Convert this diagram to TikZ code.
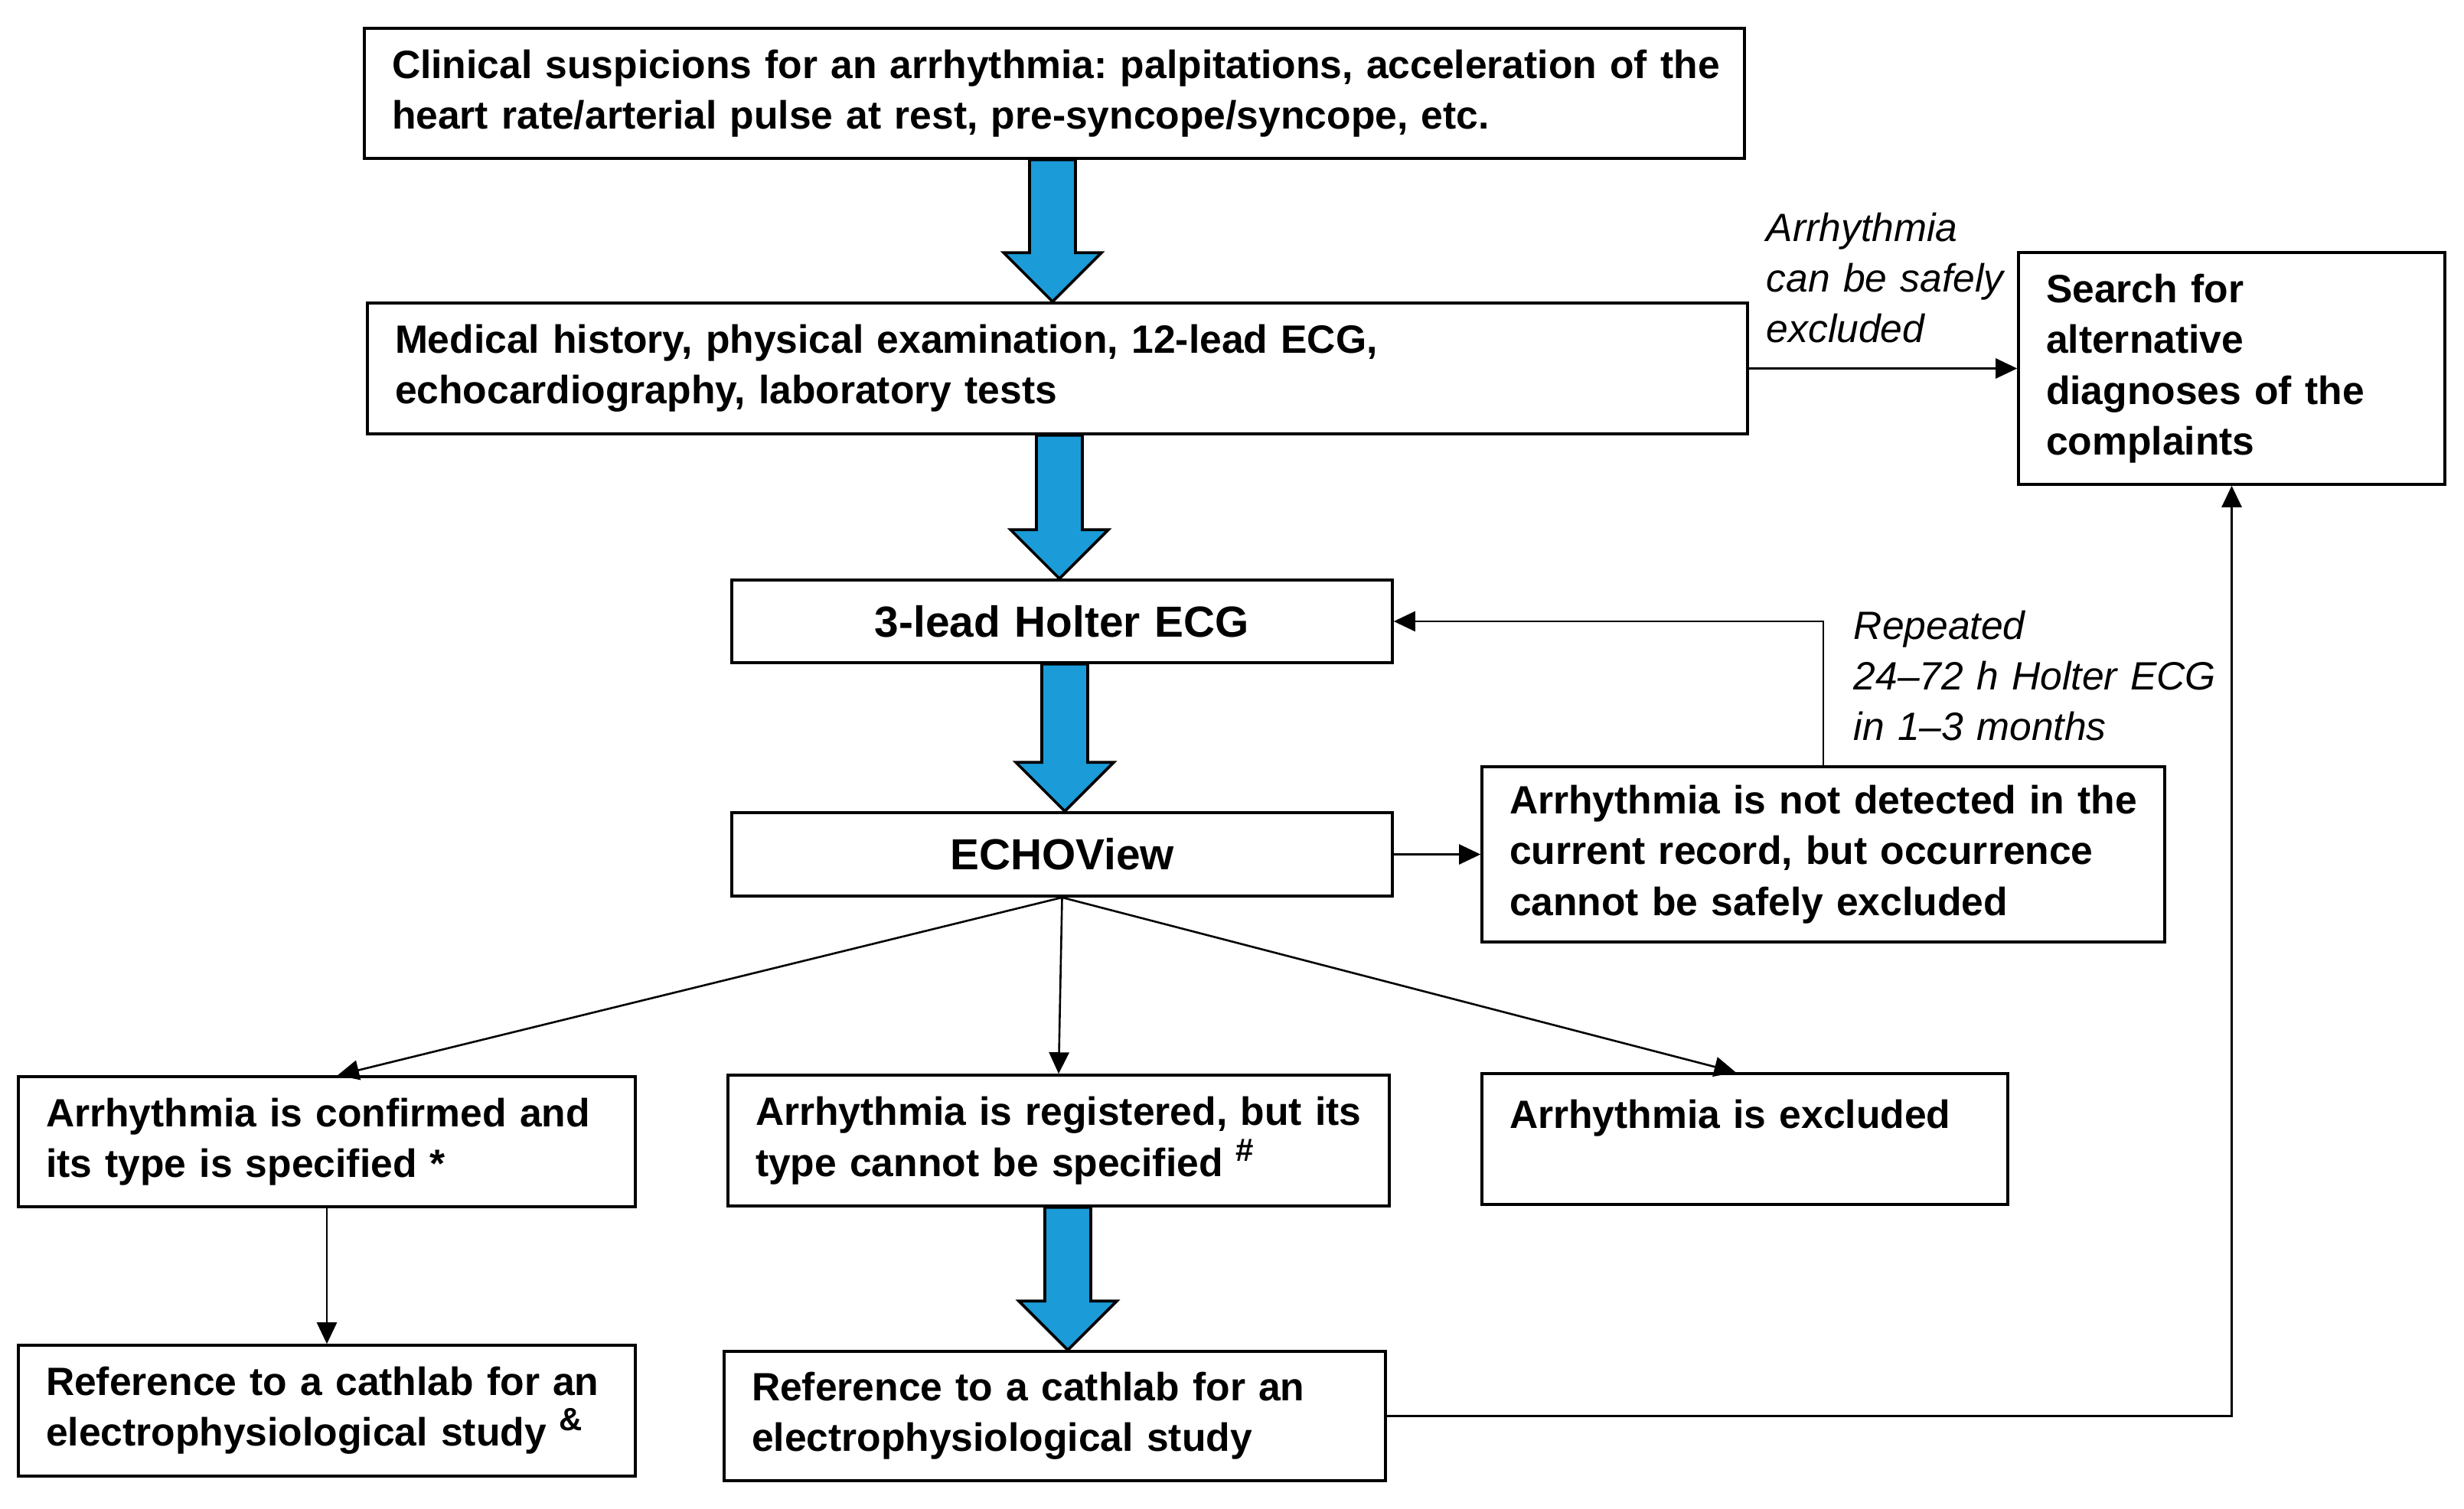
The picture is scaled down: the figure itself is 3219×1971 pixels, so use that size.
\documentclass[tikz,border=0pt]{standalone}
\usepackage{fontspec}
\setmainfont{Liberation Sans}
\usetikzlibrary{calc,arrows.meta}
\definecolor{arrowblue}{RGB}{27,155,215}
\frenchspacing
\newcommand\fatarrow[3]{%
  \draw[fat] let \p1=($(#1.south)+(#3,0)$), \p2=($(#2.north)+(#3,0)$) in
   (\x1-7.5pt,\y1) -- (\x1-7.5pt,\y2+16pt) -- (\x1-16pt,\y2+16pt) -- (\x1,\y2)
   -- (\x1+16pt,\y2+16pt) -- (\x1+7.5pt,\y2+16pt) -- (\x1+7.5pt,\y1) -- cycle;}
\newcommand\supmark[1]{\raisebox{5pt}{\fontsize{10.5pt}{10.5pt}\selectfont #1}}
\begin{document}
\begin{tikzpicture}[x=0.25pt,y=-0.25pt,
  box/.style={draw, line width=0.9pt, rectangle, inner ysep=0pt, inner xsep=9pt,
    align=left, font=\fontsize{12.9pt}{16.6pt}\selectfont\bfseries},
  bigbox/.style={box, align=center, font=\fontsize{14.2pt}{17pt}\selectfont\bfseries},
  lab/.style={inner sep=0pt, align=left, text width=120pt, anchor=base west,
    font=\fontsize{12.9pt}{16.6pt}\selectfont\itshape},
  conn/.style={line width=0.65pt, -{Triangle[length=7pt,width=6.5pt]}},
  fat/.style={draw=black, line width=0.9pt, fill=arrowblue, line join=miter}]
\useasboundingbox (0,0) rectangle (3219,1971);

% boxes
\node[box, text width=432.75pt, minimum height=42.5pt] (b1) at (1377.5,122)
  {\mbox{Clinical suspicions for an arrhythmia: palpitations, acceleration of the}\\\mbox{heart rate/arterial pulse at rest, pre-syncope/syncope, etc.}};
\node[box, text width=432.75pt, minimum height=42.75pt] (b2) at (1381.5,481.5)
  {\mbox{Medical history, physical examination, 12-lead ECG,}\\\mbox{echocardiography, laboratory tests}};
\node[bigbox, text width=197.75pt, minimum height=27pt] (holter) at (1387.5,812)
  {3-lead Holter ECG};
\node[bigbox, text width=197.75pt, minimum height=27.25pt] (echo) at (1387.5,1116.5)
  {ECHOView};
\node[box, text width=205pt, minimum height=57.25pt] (notdet) at (2382,1116.5)
  {\mbox{Arrhythmia is not detected in the}\\\mbox{current record, but occurrence}\\\mbox{cannot be safely excluded}};
\node[box, text width=121.25pt, minimum height=75.75pt] (search) at (2915.5,481.5)
  {Search for\\alternative\\\mbox{diagnoses of the}\\complaints};
\node[box, text width=183.5pt, minimum height=42.5pt] (conf) at (427,1492)
  {\mbox{Arrhythmia is confirmed and}\\\mbox{its type is specified *}};
\node[box, text width=198pt, minimum height=42.75pt] (reg) at (1383,1490.5)
  {\mbox{Arrhythmia is registered, but its}\\\mbox{type cannot be specified \supmark{\#}}};
\node[box, text width=153.75pt, minimum height=42.75pt] (excl) at (2279.5,1488.5)
  {\mbox{Arrhythmia is excluded}\\\mbox{}};
\node[box, text width=183.5pt, minimum height=42.75pt] (ref1) at (427,1843.5)
  {\mbox{Reference to a cathlab for an}\\\mbox{electrophysiological study \supmark{\&}}};
\node[box, text width=198pt, minimum height=42.25pt] (ref2) at (1378,1850.5)
  {\mbox{Reference to a cathlab for an}\\\mbox{electrophysiological study}};

% labels
\node[lab] (lab1) at (2307,315) {Arrhythmia\\can be safely\\excluded};
\node[lab] (lab2) at (2421,835) {Repeated\\24–72 h Holter ECG\\in 1–3 months};

% thick blue arrows
\fatarrow{b1}{b2}{-2.5}
\fatarrow{b2}{holter}{2.5}
\fatarrow{holter}{echo}{3.5}
\fatarrow{reg}{ref2}{12}

% thin connectors
\draw[conn] (b2.east) -- (search.west);
\draw[conn] (notdet.north) |- (holter.east);
\draw[conn] (echo.east) -- (notdet.west);
\draw[conn] (echo.south) -- ([xshift=3.5pt]conf.north);
\draw[conn] (echo.south) -- (reg.north);
\draw[conn] (echo.south) -- ([xshift=-3pt]excl.north);
\draw[conn] (conf.south) -- (ref1.north);
\draw[conn] (ref2.east) -| (search.south);
\end{tikzpicture}
\end{document}
